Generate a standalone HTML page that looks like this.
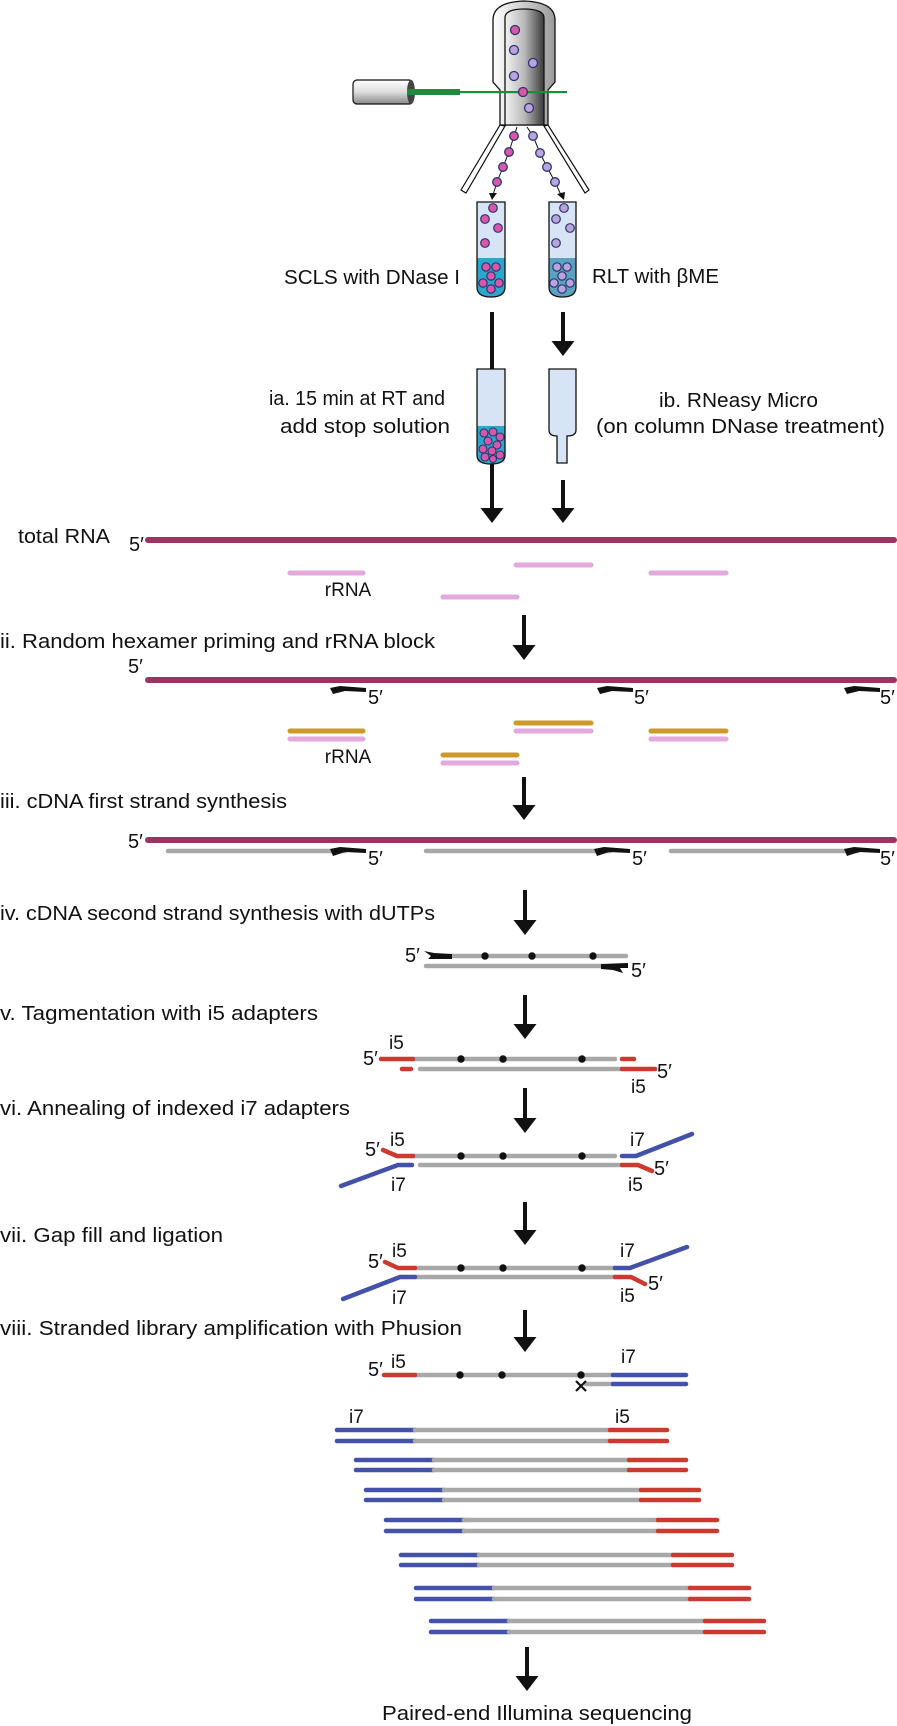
<!DOCTYPE html>
<html><head><meta charset="utf-8"><style>
html,body{margin:0;padding:0;background:#fff}
svg{display:block}
text{font-family:"Liberation Sans",sans-serif;fill:#111}
</style></head><body>
<svg width="897" height="1726" viewBox="0 0 897 1726" xmlns="http://www.w3.org/2000/svg">
<defs>
<linearGradient id="cyl" x1="0" x2="1" y1="0" y2="0">
<stop offset="0" stop-color="#f2f2f2"/><stop offset="0.5" stop-color="#b8b8b8"/><stop offset="1" stop-color="#3a3a3a"/></linearGradient>
<linearGradient id="hous" x1="0" x2="1"><stop offset="0" stop-color="#ffffff"/><stop offset="1" stop-color="#9a9a9a"/></linearGradient>
<linearGradient id="las" x1="0" x2="0" y1="0" y2="1"><stop offset="0" stop-color="#fff"/><stop offset="0.5" stop-color="#ddd"/><stop offset="1" stop-color="#888"/></linearGradient>
<g id="ah"><polygon points="-11.5,-15 11.5,-15 0,0" fill="#111"/></g>
</defs>

<path d="M493,82 L493,20 Q493,2 524,1 Q555,2 555,20 L555,82 L548,90 L548,125 L500,125 L500,90 Z" fill="url(#hous)" stroke="#111" stroke-width="1.3"/>
<path d="M505,125 L505,18 Q505,9 524,9 Q544,9 544,18 L544,125 Z" fill="url(#cyl)" stroke="#111" stroke-width="1.3"/>
<rect x="353" y="80" width="60" height="24" rx="4" fill="url(#las)" stroke="#111" stroke-width="1.2"/>
<ellipse cx="411" cy="92" rx="4" ry="12" fill="#444"/>
<rect x="407" y="89" width="53" height="6" fill="#1f8a3c"/>
<rect x="460" y="91" width="107" height="2.2" fill="#1f8a3c"/>
<g stroke="#2c3570" stroke-width="1.3">
<circle cx="515" cy="30" r="4.5" fill="#d957a8"/>
<circle cx="514" cy="50" r="4.5" fill="#b9a5dc"/>
<circle cx="533" cy="63" r="4.5" fill="#b9a5dc"/>
<circle cx="514" cy="76" r="4.5" fill="#b9a5dc"/>
<circle cx="523" cy="92" r="4.5" fill="#d957a8"/>
<circle cx="529" cy="108" r="4.5" fill="#b9a5dc"/>
</g>
<polygon points="500,125 505,126 466,193 461,190" fill="#fff" stroke="#111" stroke-width="1.2"/>
<polygon points="544,126 548,125 589,190 585,193" fill="#fff" stroke="#111" stroke-width="1.2"/>
<polyline points="517,127 514,136 509,152 503,167 497,182 493,195" fill="none" stroke="#111" stroke-width="1"/>
<polyline points="527,127 533,136 540,153 547,167 555,182 561,195" fill="none" stroke="#111" stroke-width="1"/>
<polygon points="489,193 497,193 492,200" fill="#111"/>
<polygon points="557,194 565,192 564,200" fill="#111"/>
<g stroke="#2c3570" stroke-width="1.3">
<circle cx="514" cy="136" r="4.3" fill="#d957a8"/><circle cx="509" cy="152" r="4.3" fill="#d957a8"/><circle cx="503" cy="167" r="4.3" fill="#d957a8"/><circle cx="497" cy="182" r="4.3" fill="#d957a8"/>
<circle cx="533" cy="136" r="4.3" fill="#b9a5dc"/><circle cx="540" cy="153" r="4.3" fill="#b9a5dc"/><circle cx="547" cy="167" r="4.3" fill="#b9a5dc"/><circle cx="555" cy="182" r="4.3" fill="#b9a5dc"/>
</g>

<path d="M477,202 L477,287 Q477,297 491,297 Q505,297 505,287 L505,202 Z" fill="#d6e4f5"/>
<path d="M477,258 L505,258 L505,287 Q505,297 491,297 Q477,297 477,287 Z" fill="#2aa8cc"/>
<path d="M477,202 L477,287 Q477,297 491,297 Q505,297 505,287 L505,202 Z" fill="none" stroke="#111" stroke-width="1.3"/>
<path d="M549,202 L549,287 Q549,297 562.5,297 Q576,297 576,287 L576,202 Z" fill="#d6e4f5"/>
<path d="M549,258 L576,258 L576,287 Q576,297 562.5,297 Q549,297 549,287 Z" fill="#5aa2c0"/>
<path d="M549,202 L549,287 Q549,297 562.5,297 Q576,297 576,287 L576,202 Z" fill="none" stroke="#111" stroke-width="1.3"/>
<g stroke="#2c3570" stroke-width="1.2">
<g fill="#d957a8">
<circle cx="493" cy="208" r="4.3"/><circle cx="485" cy="219" r="4.3"/><circle cx="498" cy="228" r="4.3"/><circle cx="485" cy="243" r="4.3"/>
<circle cx="486" cy="267" r="4.2"/><circle cx="496" cy="267" r="4.2"/><circle cx="491" cy="276" r="4.2"/><circle cx="483" cy="283" r="4.2"/><circle cx="499" cy="283" r="4.2"/><circle cx="491" cy="289" r="4.2"/>
</g>
<g fill="#b9a5dc">
<circle cx="564" cy="208" r="4.3"/><circle cx="556" cy="219" r="4.3"/><circle cx="570" cy="228" r="4.3"/><circle cx="556" cy="243" r="4.3"/>
<circle cx="557" cy="267" r="4.2"/><circle cx="567" cy="267" r="4.2"/><circle cx="562" cy="276" r="4.2"/><circle cx="554" cy="283" r="4.2"/><circle cx="570" cy="283" r="4.2"/><circle cx="562" cy="289" r="4.2"/>
</g></g>
<text x="460" y="284" font-size="20" text-anchor="end" textLength="176" lengthAdjust="spacingAndGlyphs">SCLS with DNase I</text>
<text x="592" y="283" font-size="20" textLength="127" lengthAdjust="spacingAndGlyphs">RLT with βME</text>

<rect x="490" y="312" width="4" height="57" fill="#111"/>
<rect x="561" y="312" width="4" height="30" fill="#111"/>
<use href="#ah" x="563" y="356"/>
<rect x="477" y="369" width="28" height="94" fill="#d6e4f5"/>
<path d="M477,426 L505,426 L505,455 Q505,464 491,464 Q477,464 477,455 Z" fill="#2aa8cc"/>
<path d="M477,369 L477,455 Q477,464 491,464 Q505,464 505,455 L505,369 Z" fill="none" stroke="#111" stroke-width="1.3"/>
<g stroke="#2c3570" stroke-width="1.1" fill="#d957a8">
<circle cx="484" cy="433" r="4"/><circle cx="493" cy="432" r="4"/><circle cx="500" cy="437" r="4"/><circle cx="488" cy="441" r="4"/><circle cx="497" cy="445" r="4"/><circle cx="483" cy="449" r="4"/><circle cx="492" cy="451" r="4"/><circle cx="500" cy="455" r="4"/><circle cx="485" cy="457" r="4"/><circle cx="493" cy="459" r="3.5"/>
</g>
<path d="M549,369 L549,430 Q549,436 557,436 L557,463 L567,463 L567,436 Q576,436 576,430 L576,369 Z" fill="#d6e4f5" stroke="#111" stroke-width="1.3"/>
<text x="445" y="405" font-size="20" text-anchor="end" textLength="176" lengthAdjust="spacingAndGlyphs">ia. 15 min at RT and</text>
<text x="450" y="433" font-size="20" text-anchor="end" textLength="170" lengthAdjust="spacingAndGlyphs">add stop solution</text>
<text x="659" y="407" font-size="20" textLength="159" lengthAdjust="spacingAndGlyphs">ib. RNeasy Micro</text>
<text x="596" y="433" font-size="20" textLength="289" lengthAdjust="spacingAndGlyphs">(on column DNase treatment)</text>
<rect x="490" y="464" width="4" height="48" fill="#111"/><use href="#ah" x="492" y="523"/>
<rect x="561" y="480" width="4" height="32" fill="#111"/><use href="#ah" x="563" y="523"/>

<text x="18" y="543" font-size="20" textLength="92" lengthAdjust="spacingAndGlyphs">total RNA</text>
<text x="129" y="551" font-size="20">5′</text>
<line x1="148" y1="540" x2="894" y2="540" stroke="#9b3463" stroke-width="6" stroke-linecap="round"/>
<g stroke="#e3a8dd" stroke-width="5" stroke-linecap="round">
<line x1="290" y1="573" x2="363" y2="573"/><line x1="516" y1="565" x2="591" y2="565"/><line x1="651" y1="573" x2="726" y2="573"/><line x1="443" y1="597" x2="517" y2="597"/>
</g>
<text x="348" y="596" font-size="19" text-anchor="middle">rRNA</text>

<rect x="522" y="615" width="4" height="32" fill="#111"/><use href="#ah" x="524" y="660"/>
<text x="0" y="648" font-size="20" textLength="435" lengthAdjust="spacingAndGlyphs">ii. Random hexamer priming and rRNA block</text>
<text x="128" y="673" font-size="20">5′</text>
<line x1="148" y1="680" x2="894" y2="680" stroke="#9b3463" stroke-width="6" stroke-linecap="round"/>
<g fill="#111">
<polygon points="366,688 340,686 330,688 333,694 345,691 366,692"/>
<polygon points="633,688 607,686 597,688 600,694 612,691 633,692"/>
<polygon points="880,688 854,686 844,688 847,694 859,691 880,692"/>
</g>
<text x="368" y="704" font-size="20">5′</text>
<text x="634" y="704" font-size="20">5′</text>
<text x="880" y="704" font-size="20">5′</text>
<g stroke-width="5" stroke-linecap="round">
<line x1="290" y1="731" x2="363" y2="731" stroke="#cc9a2a"/><line x1="290" y1="739" x2="363" y2="739" stroke="#e3a8dd"/>
<line x1="516" y1="723" x2="591" y2="723" stroke="#cc9a2a"/><line x1="516" y1="731" x2="591" y2="731" stroke="#e3a8dd"/>
<line x1="651" y1="731" x2="726" y2="731" stroke="#cc9a2a"/><line x1="651" y1="739" x2="726" y2="739" stroke="#e3a8dd"/>
<line x1="443" y1="755" x2="517" y2="755" stroke="#cc9a2a"/><line x1="443" y1="763" x2="517" y2="763" stroke="#e3a8dd"/>
</g>
<text x="348" y="763" font-size="19" text-anchor="middle">rRNA</text>

<rect x="522" y="777" width="4" height="30" fill="#111"/><use href="#ah" x="524" y="820"/>
<text x="0" y="808" font-size="20" textLength="287" lengthAdjust="spacingAndGlyphs">iii. cDNA first strand synthesis</text>
<text x="128" y="848" font-size="20">5′</text>
<line x1="148" y1="840" x2="894" y2="840" stroke="#9b3463" stroke-width="6" stroke-linecap="round"/>
<g stroke="#a8a8a8" stroke-width="4.5" stroke-linecap="round">
<line x1="168" y1="851" x2="345" y2="851"/><line x1="426" y1="851" x2="610" y2="851"/><line x1="671" y1="851" x2="858" y2="851"/>
</g>
<g fill="#111">
<polygon points="366,849 340,847 330,849 333,856 345,852 366,853"/>
<polygon points="630,849 604,847 594,849 597,856 609,852 630,853"/>
<polygon points="880,849 854,847 844,849 847,856 859,852 880,853"/>
</g>
<text x="368" y="865" font-size="20">5′</text>
<text x="632" y="865" font-size="20">5′</text>
<text x="880" y="865" font-size="20">5′</text>

<text x="0" y="920" font-size="20" textLength="435" lengthAdjust="spacingAndGlyphs">iv. cDNA second strand synthesis with dUTPs</text>
<rect x="523" y="890" width="4" height="31" fill="#111"/><use href="#ah" x="525" y="935"/>
<g stroke="#a8a8a8" stroke-width="4.5" stroke-linecap="round">
<line x1="450" y1="956" x2="626" y2="956"/><line x1="426" y1="966" x2="602" y2="966"/>
</g>
<g fill="#111">
<polygon points="424,951 434,953 452,954 452,959 428,959 431,956"/>
<polygon points="628,963 628,968 620,968 623,973 613,970 601,969 601,964"/>
</g>
<g fill="#111"><circle cx="485" cy="956" r="3.7"/><circle cx="532" cy="956" r="3.7"/><circle cx="593" cy="956" r="3.7"/></g>
<text x="405" y="962" font-size="20">5′</text>
<text x="631" y="977" font-size="20">5′</text>

<text x="0" y="1020" font-size="20" textLength="318" lengthAdjust="spacingAndGlyphs">v. Tagmentation with i5 adapters</text>
<rect x="523" y="995" width="4" height="30" fill="#111"/><use href="#ah" x="525" y="1039"/>
<g stroke-width="4.5" stroke-linecap="round">
<line x1="413" y1="1059" x2="615" y2="1059" stroke="#a8a8a8"/>
<line x1="381" y1="1059" x2="413" y2="1059" stroke="#cc3a2f"/>
<line x1="622" y1="1059" x2="634" y2="1059" stroke="#cc3a2f"/>
<line x1="420" y1="1069" x2="622" y2="1069" stroke="#a8a8a8"/>
<line x1="402" y1="1069" x2="411" y2="1069" stroke="#cc3a2f"/>
<line x1="622" y1="1069" x2="655" y2="1069" stroke="#cc3a2f"/>
</g>
<g fill="#111"><circle cx="461" cy="1059" r="3.7"/><circle cx="503" cy="1059" r="3.7"/><circle cx="582" cy="1059" r="3.7"/></g>
<text x="363" y="1065" font-size="20">5′</text>
<text x="389" y="1049" font-size="19">i5</text>
<text x="657" y="1078" font-size="20">5′</text>
<text x="631" y="1093" font-size="19">i5</text>

<text x="0" y="1115" font-size="20" textLength="350" lengthAdjust="spacingAndGlyphs">vi. Annealing of indexed i7 adapters</text>
<rect x="523" y="1088" width="4" height="31" fill="#111"/><use href="#ah" x="525" y="1133"/>
<g stroke-width="4.5" stroke-linecap="round" stroke-linejoin="round" fill="none">
<line x1="413" y1="1156" x2="615" y2="1156" stroke="#a8a8a8"/>
<polyline points="383,1150 397,1156 413,1156" stroke="#cc3a2f"/>
<polyline points="622,1156 636,1156 692,1134" stroke="#4451a8"/>
<line x1="420" y1="1165" x2="622" y2="1165" stroke="#a8a8a8"/>
<polyline points="341,1186 398,1165 412,1165" stroke="#4451a8"/>
<polyline points="622,1165 638,1165 652,1171" stroke="#cc3a2f"/>
</g>
<g fill="#111"><circle cx="461" cy="1156" r="3.7"/><circle cx="503" cy="1156" r="3.7"/><circle cx="582" cy="1156" r="3.7"/></g>
<text x="365" y="1156" font-size="20">5′</text>
<text x="390" y="1146" font-size="19">i5</text>
<text x="391" y="1191" font-size="19">i7</text>
<text x="630" y="1146" font-size="19">i7</text>
<text x="628" y="1191" font-size="19">i5</text>
<text x="654" y="1175" font-size="20">5′</text>

<text x="0" y="1242" font-size="20" textLength="223" lengthAdjust="spacingAndGlyphs">vii. Gap fill and ligation</text>
<rect x="523" y="1202" width="4" height="29" fill="#111"/><use href="#ah" x="525" y="1245"/>
<g stroke-width="4.5" stroke-linecap="round" stroke-linejoin="round" fill="none">
<line x1="415" y1="1268" x2="615" y2="1268" stroke="#a8a8a8"/>
<polyline points="385,1262 398,1268 415,1268" stroke="#cc3a2f"/>
<polyline points="615,1268 630,1268 687,1247" stroke="#4451a8"/>
<line x1="415" y1="1277" x2="615" y2="1277" stroke="#a8a8a8"/>
<polyline points="343,1299 400,1277 415,1277" stroke="#4451a8"/>
<polyline points="615,1277 631,1277 645,1284" stroke="#cc3a2f"/>
</g>
<g fill="#111"><circle cx="461" cy="1268" r="3.7"/><circle cx="503" cy="1268" r="3.7"/><circle cx="582" cy="1268" r="3.7"/></g>
<text x="368" y="1268" font-size="20">5′</text>
<text x="392" y="1257" font-size="19">i5</text>
<text x="392" y="1304" font-size="19">i7</text>
<text x="620" y="1257" font-size="19">i7</text>
<text x="620" y="1302" font-size="19">i5</text>
<text x="648" y="1290" font-size="20">5′</text>

<text x="0" y="1335" font-size="20" textLength="462" lengthAdjust="spacingAndGlyphs">viii. Stranded library amplification with Phusion</text>
<rect x="523" y="1310" width="4" height="28" fill="#111"/><use href="#ah" x="525" y="1352"/>
<g stroke-width="4.5" stroke-linecap="round">
<line x1="415" y1="1375" x2="613" y2="1375" stroke="#a8a8a8"/>
<line x1="384" y1="1375" x2="415" y2="1375" stroke="#cc3a2f"/>
<line x1="613" y1="1375" x2="686" y2="1375" stroke="#4451a8"/>
<line x1="586" y1="1384" x2="613" y2="1384" stroke="#a8a8a8"/>
<line x1="613" y1="1384" x2="686" y2="1384" stroke="#4451a8"/>
</g>
<g fill="#111"><circle cx="460" cy="1375" r="3.7"/><circle cx="502" cy="1375" r="3.7"/><circle cx="581" cy="1375" r="3.7"/></g>
<g stroke="#111" stroke-width="2.2"><line x1="576" y1="1381" x2="586" y2="1391"/><line x1="586" y1="1381" x2="576" y2="1391"/></g>
<text x="368" y="1376" font-size="20">5′</text>
<text x="391" y="1368" font-size="19">i5</text>
<text x="621" y="1363" font-size="19">i7</text>

<text x="349" y="1423" font-size="19">i7</text>
<text x="615" y="1423" font-size="19">i5</text>
<g stroke-width="4.5" stroke-linecap="round">
<g>
<line x1="337" y1="1430" x2="415" y2="1430" stroke="#4451a8"/><line x1="415" y1="1430" x2="610" y2="1430" stroke="#a8a8a8"/><line x1="610" y1="1430" x2="667" y2="1430" stroke="#cc3a2f"/>
<line x1="337" y1="1441" x2="415" y2="1441" stroke="#4451a8"/><line x1="415" y1="1441" x2="610" y2="1441" stroke="#a8a8a8"/><line x1="610" y1="1441" x2="667" y2="1441" stroke="#cc3a2f"/>
</g>
<g transform="translate(19,30)">
<line x1="337" y1="1430" x2="415" y2="1430" stroke="#4451a8"/><line x1="415" y1="1430" x2="610" y2="1430" stroke="#a8a8a8"/><line x1="610" y1="1430" x2="667" y2="1430" stroke="#cc3a2f"/>
<line x1="337" y1="1440" x2="415" y2="1440" stroke="#4451a8"/><line x1="415" y1="1440" x2="610" y2="1440" stroke="#a8a8a8"/><line x1="610" y1="1440" x2="667" y2="1440" stroke="#cc3a2f"/>
</g>
<g transform="translate(29,60)">
<line x1="337" y1="1430" x2="415" y2="1430" stroke="#4451a8"/><line x1="415" y1="1430" x2="612" y2="1430" stroke="#a8a8a8"/><line x1="612" y1="1430" x2="670" y2="1430" stroke="#cc3a2f"/>
<line x1="337" y1="1440" x2="415" y2="1440" stroke="#4451a8"/><line x1="415" y1="1440" x2="612" y2="1440" stroke="#a8a8a8"/><line x1="612" y1="1440" x2="670" y2="1440" stroke="#cc3a2f"/>
</g>
<g transform="translate(49,90)">
<line x1="337" y1="1430" x2="415" y2="1430" stroke="#4451a8"/><line x1="415" y1="1430" x2="609" y2="1430" stroke="#a8a8a8"/><line x1="609" y1="1430" x2="668" y2="1430" stroke="#cc3a2f"/>
<line x1="337" y1="1441" x2="415" y2="1441" stroke="#4451a8"/><line x1="415" y1="1441" x2="609" y2="1441" stroke="#a8a8a8"/><line x1="609" y1="1441" x2="668" y2="1441" stroke="#cc3a2f"/>
</g>
<g transform="translate(64,125)">
<line x1="337" y1="1430" x2="415" y2="1430" stroke="#4451a8"/><line x1="415" y1="1430" x2="609" y2="1430" stroke="#a8a8a8"/><line x1="609" y1="1430" x2="668" y2="1430" stroke="#cc3a2f"/>
<line x1="337" y1="1440" x2="415" y2="1440" stroke="#4451a8"/><line x1="415" y1="1440" x2="609" y2="1440" stroke="#a8a8a8"/><line x1="609" y1="1440" x2="668" y2="1440" stroke="#cc3a2f"/>
</g>
<g transform="translate(79,158)">
<line x1="337" y1="1430" x2="415" y2="1430" stroke="#4451a8"/><line x1="415" y1="1430" x2="611" y2="1430" stroke="#a8a8a8"/><line x1="611" y1="1430" x2="670" y2="1430" stroke="#cc3a2f"/>
<line x1="337" y1="1441" x2="415" y2="1441" stroke="#4451a8"/><line x1="415" y1="1441" x2="611" y2="1441" stroke="#a8a8a8"/><line x1="611" y1="1441" x2="670" y2="1441" stroke="#cc3a2f"/>
</g>
<g transform="translate(94,191)">
<line x1="337" y1="1430" x2="415" y2="1430" stroke="#4451a8"/><line x1="415" y1="1430" x2="611" y2="1430" stroke="#a8a8a8"/><line x1="611" y1="1430" x2="670" y2="1430" stroke="#cc3a2f"/>
<line x1="337" y1="1441" x2="415" y2="1441" stroke="#4451a8"/><line x1="415" y1="1441" x2="611" y2="1441" stroke="#a8a8a8"/><line x1="611" y1="1441" x2="670" y2="1441" stroke="#cc3a2f"/>
</g>
</g>

<rect x="525" y="1647" width="4" height="31" fill="#111"/><use href="#ah" x="527" y="1691"/>
<text x="382" y="1720" font-size="20" textLength="310" lengthAdjust="spacingAndGlyphs">Paired-end Illumina sequencing</text>
</svg>
</body></html>
